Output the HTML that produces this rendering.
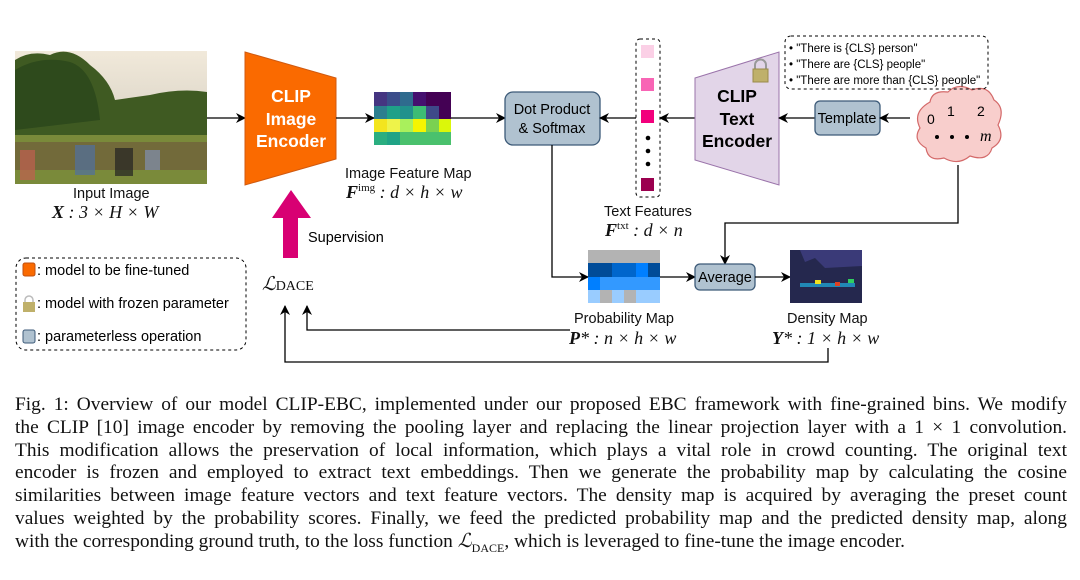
<!DOCTYPE html>
<html><head><meta charset="utf-8"><style>
body{margin:0;background:#fff;width:1080px;height:580px;overflow:hidden;position:relative;font-family:"Liberation Sans",sans-serif;}
.t{position:absolute;white-space:nowrap;color:#111;}
.m{font-family:"Liberation Serif",serif;font-style:italic;}
.cap{position:absolute;left:15px;width:1052px;font-family:"Liberation Serif",serif;font-size:19.4px;color:#111;}
.cap div{height:22.8px;line-height:22.8px;text-align:justify;text-align-last:justify;white-space:nowrap;}
</style></head><body>
<svg width="1080" height="380" style="position:absolute;left:0;top:0" font-family="Liberation Sans, sans-serif">
<defs>
<marker id="a" markerWidth="10" markerHeight="10" refX="9" refY="5" orient="auto" markerUnits="userSpaceOnUse"><path d="M0,0 L10,5 L0,10 L3,5 z" fill="#000"/></marker>
<linearGradient id="sky" x1="0" y1="0" x2="0" y2="1"><stop offset="0" stop-color="#f1e9da"/><stop offset="1" stop-color="#c9c4b8"/></linearGradient>
</defs>
<!-- input image -->
<rect x="15" y="51" width="192" height="133" fill="url(#sky)"/>
<path d="M15,60 Q30,50 50,55 Q70,45 90,65 Q110,80 115,100 L150,95 Q180,88 207,92 L207,184 L15,184z" fill="#3f5a22"/>
<path d="M15,70 Q40,55 70,62 Q95,70 100,120 L15,130z" fill="#2e4a1c"/>
<rect x="15" y="135" width="192" height="49" fill="#7a8a3a"/>
<rect x="15" y="142" width="192" height="28" fill="#6a4a3a" opacity="0.5"/>
<rect x="20" y="150" width="15" height="30" fill="#c06050" opacity="0.7"/>
<rect x="75" y="145" width="20" height="30" fill="#5070a0" opacity="0.7"/>
<rect x="115" y="148" width="18" height="28" fill="#222" opacity="0.7"/>
<rect x="145" y="150" width="15" height="20" fill="#8090b0" opacity="0.7"/>
<!-- arrows -->
<line x1="207" y1="118" x2="245" y2="118" stroke="#000" stroke-width="1.3" marker-end="url(#a)"/>
<polygon points="245,52 336,78 336,159 245,185" fill="#fa6a00" stroke="#d05a10"/>
<text x="291" y="102" fill="#fff" font-size="17.5" font-weight="bold" text-anchor="middle">CLIP</text>
<text x="291" y="125" fill="#fff" font-size="17.5" font-weight="bold" text-anchor="middle">Image</text>
<text x="291" y="147" fill="#fff" font-size="17.5" font-weight="bold" text-anchor="middle">Encoder</text>
<line x1="336" y1="118" x2="374" y2="118" stroke="#000" stroke-width="1.3" marker-end="url(#a)"/>
<g>
<rect x="374" y="92" width="13" height="14" fill="#453581"/><rect x="387" y="92" width="13" height="14" fill="#3b4d8a"/><rect x="400" y="92" width="13" height="14" fill="#2f6b8e"/><rect x="413" y="92" width="13" height="14" fill="#45106f"/><rect x="426" y="92" width="13" height="14" fill="#440154"/><rect x="439" y="92" width="12" height="14" fill="#440154"/>
<rect x="374" y="106" width="13" height="13" fill="#2c7f8e"/><rect x="387" y="106" width="13" height="13" fill="#1fa088"/><rect x="400" y="106" width="13" height="13" fill="#21918c"/><rect x="413" y="106" width="13" height="13" fill="#3dbc74"/><rect x="426" y="106" width="13" height="13" fill="#3e4989"/><rect x="439" y="106" width="12" height="13" fill="#440154"/>
<rect x="374" y="119" width="13" height="13" fill="#f3e51e"/><rect x="387" y="119" width="13" height="13" fill="#eef34a"/><rect x="400" y="119" width="13" height="13" fill="#a9f05c"/><rect x="413" y="119" width="13" height="13" fill="#f5f500"/><rect x="426" y="119" width="13" height="13" fill="#7ad151"/><rect x="439" y="119" width="12" height="13" fill="#dbf70a"/>
<rect x="374" y="132" width="26" height="13" fill="#2aae80"/><rect x="387" y="132" width="13" height="13" fill="#20a386"/><rect x="400" y="132" width="51" height="13" fill="#4ac16d"/>
</g>
<line x1="451" y1="118" x2="505" y2="118" stroke="#000" stroke-width="1.3" marker-end="url(#a)"/>
<rect x="505" y="92" width="95" height="53" rx="8" fill="#b0c2d0" stroke="#3c5a78" stroke-width="1.3"/>
<text x="552" y="114" font-size="14.5" text-anchor="middle">Dot Product</text>
<text x="552" y="133" font-size="14.5" text-anchor="middle">&amp; Softmax</text>
<line x1="636" y1="118" x2="600" y2="118" stroke="#000" stroke-width="1.3" marker-end="url(#a)"/>
<rect x="636" y="39" width="24" height="158" rx="4" fill="none" stroke="#000" stroke-dasharray="3,3"/>
<rect x="641" y="45" width="13" height="13" fill="#fbd0e6"/>
<rect x="641" y="78" width="13" height="13" fill="#f865b5"/>
<rect x="641" y="110" width="13" height="13" fill="#f2007c"/>
<circle cx="648" cy="138" r="2.3"/><circle cx="648" cy="151" r="2.3"/><circle cx="648" cy="164" r="2.3"/>
<rect x="641" y="178" width="13" height="13" fill="#9b004f"/>
<line x1="695" y1="118" x2="660" y2="118" stroke="#000" stroke-width="1.3" marker-end="url(#a)"/>
<polygon points="695,78 779,52 779,185 695,160" fill="#e2d5e8" stroke="#9a73aa"/>
<g transform="translate(752,59)"><path d="M3,10 V6 a5.5,5.5 0 0 1 11,0 V10" fill="none" stroke="#999" stroke-width="2"/><rect x="1" y="10" width="15" height="13" fill="#bfb06a" stroke="#9a8a4a"/></g>
<text x="737" y="102" font-size="17.5" font-weight="bold" text-anchor="middle">CLIP</text>
<text x="737" y="125" font-size="17.5" font-weight="bold" text-anchor="middle">Text</text>
<text x="737" y="147" font-size="17.5" font-weight="bold" text-anchor="middle">Encoder</text>
<line x1="815" y1="118" x2="779" y2="118" stroke="#000" stroke-width="1.3" marker-end="url(#a)"/>
<rect x="815" y="101" width="65" height="34" rx="5" fill="#b0c2d0" stroke="#3c5a78" stroke-width="1.3"/>
<text x="847" y="123" font-size="14.5" text-anchor="middle">Template</text>
<line x1="910" y1="118" x2="880" y2="118" stroke="#000" stroke-width="1.3" marker-end="url(#a)"/>
<path d="M930,102 Q932,90 948,92 Q958,82 972,90 Q988,84 994,100 Q1006,108 998,125 Q1006,140 992,148 Q988,162 970,156 Q958,166 944,158 Q928,162 926,148 Q912,140 920,128 Q912,112 930,102z" fill="#f8cecc" stroke="#d46a6a" stroke-width="1.2"/>
<text x="927" y="124" font-size="14">0</text><text x="947" y="116" font-size="14">1</text><text x="977" y="116" font-size="14">2</text>
<circle cx="937" cy="137" r="2"/><circle cx="952" cy="137" r="2"/><circle cx="967" cy="137" r="2"/>
<text x="980" y="141" font-size="16" font-family="Liberation Serif, serif" font-style="italic">m</text>
<rect x="785" y="36" width="203" height="53" rx="6" fill="none" stroke="#000" stroke-dasharray="3,3"/>
<text x="789" y="52" font-size="11.5">• "There is {CLS} person"</text>
<text x="789" y="68" font-size="11.5">• "There are {CLS} people"</text>
<text x="789" y="84" font-size="11.5">• "There are more than {CLS} people"</text>
<polyline points="958,165 958,223 725,223 725,264" fill="none" stroke="#000" stroke-width="1.3" marker-end="url(#a)"/>
<polyline points="552,145 552,277 588,277" fill="none" stroke="#000" stroke-width="1.3" marker-end="url(#a)"/>
<rect x="588" y="250" width="72" height="13" fill="#b3b3b3"/>
<rect x="588" y="263" width="24" height="14" fill="#004c99"/><rect x="612" y="263" width="24" height="14" fill="#0066cc"/><rect x="636" y="263" width="12" height="14" fill="#007fff"/><rect x="648" y="263" width="12" height="14" fill="#004c99"/>
<rect x="588" y="277" width="12" height="13" fill="#007fff"/><rect x="600" y="277" width="60" height="13" fill="#3399ff"/>
<rect x="588" y="290" width="12" height="13" fill="#99ccff"/><rect x="600" y="290" width="12" height="13" fill="#b3b3b3"/><rect x="612" y="290" width="12" height="13" fill="#99ccff"/><rect x="624" y="290" width="12" height="13" fill="#b3b3b3"/><rect x="636" y="290" width="24" height="13" fill="#99ccff"/>
<line x1="660" y1="277" x2="695" y2="277" stroke="#000" stroke-width="1.3" marker-end="url(#a)"/>
<rect x="695" y="264" width="60" height="26" rx="5" fill="#b0c2d0" stroke="#3c5a78" stroke-width="1.3"/>
<text x="725" y="282" font-size="14.5" text-anchor="middle">Average</text>
<line x1="755" y1="277" x2="790" y2="277" stroke="#000" stroke-width="1.3" marker-end="url(#a)"/>
<rect x="790" y="250" width="72" height="53" fill="#3a3a78"/>
<path d="M790,250 L800,250 L805,262 L815,258 L825,268 L862,266 L862,303 L790,303z" fill="#25284e"/>
<rect x="800" y="283" width="55" height="4" fill="#20a0d0" opacity="0.8"/>
<rect x="815" y="280" width="6" height="4" fill="#f0e020"/><rect x="835" y="282" width="5" height="4" fill="#e04020"/><rect x="848" y="279" width="6" height="4" fill="#30d060"/>
<rect x="16" y="258" width="230" height="92" rx="10" fill="none" stroke="#000" stroke-dasharray="3,3"/>
<rect x="23" y="263" width="12" height="13" rx="2" fill="#fa6a00" stroke="#c05010"/>
<text x="37" y="275" font-size="14.5">: model to be fine-tuned</text>
<g transform="translate(22,296)"><path d="M3,6 V4 a4,4 0 0 1 8,0 V6" fill="none" stroke="#bbb" stroke-width="1.5"/><rect x="1" y="6" width="12" height="10" fill="#bfb06a"/></g>
<text x="37" y="308" font-size="14.5">: model with frozen parameter</text>
<rect x="23" y="330" width="12" height="13" rx="2" fill="#b0c2d0" stroke="#3c5a78"/>
<text x="37" y="341" font-size="14.5">: parameterless operation</text>
<polygon points="291,190 311,218 298,218 298,258 283,258 283,218 272,218" fill="#d80073"/>
<text x="308" y="242" font-size="14.5">Supervision</text>
<polyline points="828,348 828,362 285,362 285,306" fill="none" stroke="#000" stroke-width="1.3" marker-end="url(#a)"/>
<polyline points="570,330 307,330 307,306" fill="none" stroke="#000" stroke-width="1.3" marker-end="url(#a)"/>
</svg>
<div class="t" style="left:73px;top:186px;font-size:14.5px">Input Image</div>
<div class="t m" style="left:52px;top:202px;font-size:18px"><b>X</b> : 3 × <i>H</i> × <i>W</i></div>
<div class="t" style="left:345px;top:166px;font-size:14.5px">Image Feature Map</div>
<div class="t m" style="left:346px;top:182px;font-size:18px"><b>F</b><sup style="font-style:normal;font-size:11px">img</sup> : <i>d</i> × <i>h</i> × <i>w</i></div>
<div class="t m" style="left:262px;top:273px;font-size:19px">ℒ<span style="font-style:normal;font-size:14px">DACE</span></div>
<div class="t" style="left:604px;top:204px;font-size:14.5px">Text Features</div>
<div class="t m" style="left:605px;top:220px;font-size:18px"><b>F</b><sup style="font-style:normal;font-size:11px">txt</sup> : <i>d</i> × <i>n</i></div>
<div class="t" style="left:574px;top:311px;font-size:14.5px">Probability Map</div>
<div class="t m" style="left:569px;top:328px;font-size:18px"><b>P</b>* : <i>n</i> × <i>h</i> × <i>w</i></div>
<div class="t" style="left:787px;top:311px;font-size:14.5px">Density Map</div>
<div class="t m" style="left:772px;top:328px;font-size:18px"><b>Y</b>* : 1 × <i>h</i> × <i>w</i></div>
<div class="cap" style="top:394px">
<div>Fig. 1: Overview of our model CLIP-EBC, implemented under our proposed EBC framework with fine-grained bins. We modify</div>
<div>the CLIP [10] image encoder by removing the pooling layer and replacing the linear projection layer with a 1 × 1 convolution.</div>
<div>This modification allows the preservation of local information, which plays a vital role in crowd counting. The original text</div>
<div>encoder is frozen and employed to extract text embeddings. Then we generate the probability map by calculating the cosine</div>
<div>similarities between image feature vectors and text feature vectors. The density map is acquired by averaging the preset count</div>
<div>values weighted by the probability scores. Finally, we feed the predicted probability map and the predicted density map, along</div>
<div style="text-align:left;text-align-last:left">with the corresponding ground truth, to the loss function <i>ℒ</i><sub style="font-size:12px">DACE</sub>, which is leveraged to fine-tune the image encoder.</div>
</div>
</body></html>
